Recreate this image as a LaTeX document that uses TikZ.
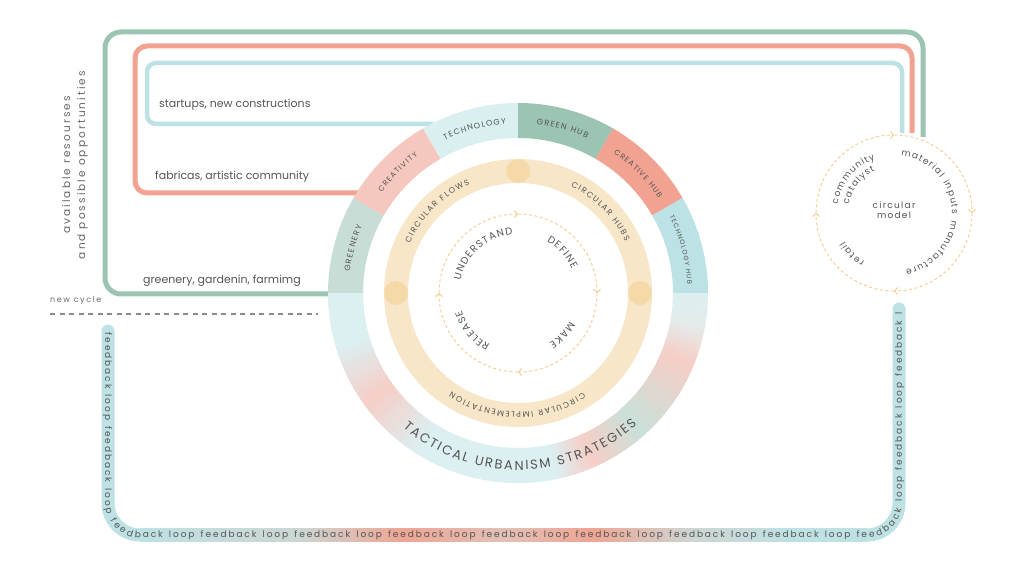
\documentclass[tikz,border=0pt]{standalone}
\usepackage{fontspec}
\setmainfont{Poppins}
\newfontfamily\trackedmid[LetterSpace=14]{Poppins}
\newfontfamily\trackedwide[LetterSpace=20]{Poppins}
\usepackage{xcolor}
\usepackage{tikz}
\usetikzlibrary{arrows.meta,calc,decorations.text}

\definecolor{ink}{HTML}{555555}
\definecolor{inklt}{HTML}{666666}
\definecolor{sage}{HTML}{9CC4B2}
\definecolor{sagelt}{HTML}{C7DDD5}
\definecolor{salmon}{HTML}{F1A290}
\definecolor{pinklt}{HTML}{F6C7BE}
\definecolor{aqua}{HTML}{BCE2E5}
\definecolor{aqualt}{HTML}{D9EFF0}
\definecolor{tcyan}{HTML}{DCEFF1}
\definecolor{tpink}{HTML}{F6CEC7}
\definecolor{tsage}{HTML}{C9E0D8}
\definecolor{tgrey}{HTML}{E4ECEB}
\definecolor{peach}{HTML}{F8E6C8}
\definecolor{peachdk}{HTML}{F6D9A9}
\definecolor{dashor}{HTML}{F6CB8E}
\definecolor{cyclegrey}{HTML}{8A8A8A}
\definecolor{fbcyan}{HTML}{BEE1E4}
\definecolor{fbgrey}{HTML}{CCD6D2}
\definecolor{fbsalmon}{HTML}{EFA594}
\definecolor{fbpale}{HTML}{E2C0B6}

\pgfdeclarehorizontalshading{fbshade}{100bp}{color(0bp)=(fbcyan); color(25bp)=(fbcyan); color(36bp)=(fbgrey); color(43bp)=(fbsalmon); color(50bp)=(fbpale); color(56bp)=(fbsalmon); color(63bp)=(fbgrey); color(70bp)=(fbcyan); color(100bp)=(fbcyan)}

\begin{document}
\begin{tikzpicture}[
  x=1pt, y=1pt,
  flow/.style={line width=5pt},
  lab/.style={anchor=west, inner sep=0pt, text=ink, font=\fontsize{11}{13}\selectfont},
  cyc/.style={dashor, line width=0.9pt, dash pattern=on 3pt off 2.5pt, -{Straight Barb[length=3pt,width=7pt]}},
  arctext/.style={decorate, decoration={text along path, text align=center, text color=ink, #1}}
]
\fill[white] (0,0) rectangle (1024,576);
\useasboundingbox (0,0) rectangle (1024,576);

\coordinate (C) at (518,283);
\coordinate (M) at (894,363);

% resource lines
\coordinate (green-edge) at (335,282);
\coordinate (creat-edge) at (360,383);
\coordinate (tech-edge) at (433,452);
\coordinate (green-in) at (923,439);
\coordinate (creat-in) at (912,443);
\coordinate (tech-in) at (902,443);
\draw[flow, sage, rounded corners=16pt] (green-edge) -- (105,282) -- (105,544) -- (923,544) -- (green-in);
\draw[flow, salmon, rounded corners=12pt] (creat-edge) -- (135,383) -- (135,530) -- (912,530) -- (creat-in);
\draw[flow, aqua, line width=4.5pt, rounded corners=9pt] (tech-edge) -- (147,452) -- (147,513) -- (902,513) -- (tech-in);

\node[lab] (startups) at (159,471) {startups, new constructions};
\node[lab] (fabricas) at (155,399) {fabricas, artistic community};
\node[lab] (greenery) at (143,295) {greenery, gardenin, farmimg};

\node[rotate=90, align=center, text=inklt, font=\trackedwide\fontsize{10.5}{15}\selectfont] (avail) at (75,411) {available resourses\\and possible opportunities};

% new cycle
\node[anchor=west, inner sep=0pt, text=inklt, font=\trackedwide\fontsize{8}{10}\selectfont] (newcycle) at (50,275) {new cycle};
\coordinate (nc-l) at (50,262);
\coordinate (nc-r) at (318,262);
\draw[cyclegrey, line width=2.2pt, dash pattern=on 5pt off 4.5pt] (nc-l) -- (nc-r);

% feedback loop
\coordinate (fbL) at (108,245);
\coordinate (fbR) at (899,267);
\draw[fbcyan, line width=13pt, line cap=round, rounded corners=32pt] (fbL) -- (108,41) -- (899,41) -- (fbR);
\shade[shading=fbshade] (140,34.5) rectangle (867,47.5);
\path[arctext={raise=-2.8pt, text align=left, text={|\fontsize{9}{9}\selectfont\kern1.9pt|feedback loop feedback loop feedback loop feedback loop feedback loop feedback loop feedback loop feedback loop feedback loop feedback loop feedback loop feedback loop feedback loop feedback loop feedback loop }}, rounded corners=32pt] (fbL) -- (108,41) -- (899,41) -- (fbR);

% outer ring, lower half
\foreach \a/\b/\ca/\cb in {180/197/tcyan/tcyan, 197/216/tcyan/tpink, 216/238/tpink/tcyan, 238/282/tcyan/tcyan, 282/294/tcyan/tpink, 294/312/tpink/tsage, 312/338/tsage/tpink, 338/350/tpink/tgrey, 350/360/tgrey/tcyan}{
  \pgfmathtruncatemacro\bm{\b-1}
  \foreach \t in {\a,...,\bm}{
    \pgfmathtruncatemacro\p{100*(\b-\t-0.5)/(\b-\a)}
    \fill[\ca!\p!\cb] ([shift={(\t:155)}]C) arc[start angle=\t, end angle=\t+1.4, radius=155pt] -- ([shift={(\t+1.4:190)}]C) arc[start angle=\t+1.4, end angle=\t, radius=190pt] -- cycle;
  }
}
\path[arctext={text={|\fontsize{13}{13}\selectfont\kern1.9pt|TACTICAL URBANISM STRATEGIES}}] ([shift={(215:177)}]C) arc[start angle=215, end angle=326, radius=177pt];

% outer ring, upper half
\foreach \a/\col/\lab/\fs/\kk in {150/sagelt/GREENERY/8/1.2, 120/pinklt/CREATIVITY/7.5/1.2, 90/aqualt/TECHNOLOGY/8/1.2, 60/sage/GREEN HUB/8/1.2, 30/salmon/CREATIVE HUB/7.5/1.2, 0/aqua/TECHNOLOGY HUB/6.5/1}{
  \fill[\col] ([shift={(\a:155)}]C) arc[start angle=\a, end angle=\a+30, radius=155pt] -- ([shift={(\a+30:190)}]C) arc[start angle=\a+30, end angle=\a, radius=190pt] -- cycle;
  \path[decorate, decoration={text along path, text align=center, text color=ink, text/.expanded={|\noexpand\fontsize{\fs}{\fs}\noexpand\selectfont\kern\kk pt|\lab}}] ([shift={(\a+30:169.5)}]C) arc[start angle=\a+30, end angle=\a, radius=169.5pt];
}

% circular ring
\draw[peach, line width=24pt] (C) circle[radius=122pt];
\foreach \a in {90,180,0}
  \fill[peachdk] ([shift={(\a:122)}]C) circle[radius=12pt];
\path[arctext={text={|\fontsize{8}{8}\selectfont\kern1.5pt|CIRCULAR FLOWS}}] ([shift={(178:119)}]C) arc[start angle=178, end angle=92, radius=119pt];
\path[arctext={text={|\fontsize{8}{8}\selectfont\kern1.5pt|CIRCULAR HUBS}}] ([shift={(88:119)}]C) arc[start angle=88, end angle=2, radius=119pt];
\path[arctext={text={|\fontsize{8}{8}\selectfont\kern1.5pt|CIRCULAR IMPLEMENTATION}}] ([shift={(325:119)}]C) arc[start angle=325, end angle=215, radius=119pt];

% inner cycle
\foreach \a in {180,90,0,-90}
  \draw[cyc] ([shift={(\a:79)}]C) arc[start angle=\a, end angle=\a-90, radius=79pt];
\foreach \c/\lab in {132/UNDERSTAND, 43/DEFINE, -43/MAKE, 220/RELEASE}
  \path[decorate, decoration={text along path, text align=center, text color=ink, text/.expanded={|\noexpand\fontsize{10}{10}\noexpand\selectfont\kern1.2pt|\lab}}] ([shift={(\c+45:59)}]C) arc[start angle=\c+45, end angle=\c-45, radius=59pt];

% circular model
\foreach \a in {180,90,0,-90}
  \draw[cyc] ([shift={(\a:78)}]M) arc[start angle=\a, end angle=\a-90, radius=78pt];
\node[align=center, text=ink, font=\trackedmid\fontsize{9}{10.5}\selectfont] (model) at ($(M)+(0,3)$) {circular\\model};
\foreach \c/\r/\lab in {41.5/58/material inputs, -42.5/58/manufacture, 225/57/retail, 141/57/community, 143/46/catalyst}
  \path[decorate, decoration={text along path, text align=center, text color=ink, text/.expanded={|\noexpand\fontsize{9}{9}\noexpand\selectfont\kern1.2pt|\lab}}] ([shift={(\c+45:\r)}]M) arc[start angle=\c+45, end angle=\c-45, radius=\r pt];
\end{tikzpicture}
\end{document}
